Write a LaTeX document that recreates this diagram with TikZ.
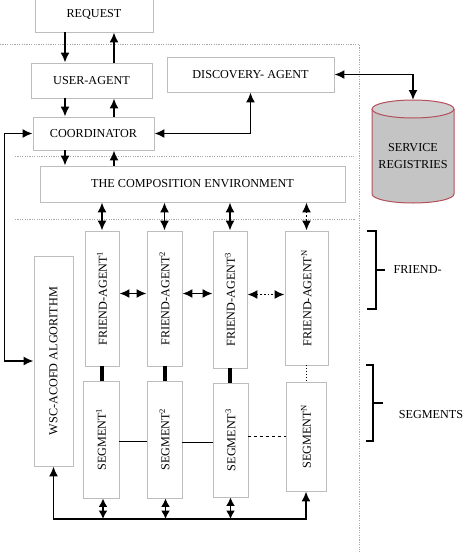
\documentclass[tikz,border=0pt]{standalone}
\usepackage{fontspec}
\setmainfont{Liberation Serif}
\usepackage{graphicx}
\usetikzlibrary{arrows.meta,calc}
\definecolor{boxgray}{HTML}{BDBDBD}
\definecolor{sepgray}{HTML}{A8A8A8}
\definecolor{cylred}{HTML}{B4505C}
\definecolor{cylfill}{HTML}{C4C4C4}
\definecolor{cyltop}{HTML}{D0D0D0}
\tikzset{
  box/.style={draw=boxgray, line width=0.9pt, fill=white, inner sep=0pt},
  arr/.style={line width=1.7pt, -{Latex[length=10pt,width=9pt]}},
  arrtwo/.style={line width=1.7pt, {Latex[length=10pt,width=9pt]}-{Latex[length=10pt,width=9pt]}},
  shortarr/.style={line width=1.7pt, {Latex[length=8.5pt,width=9pt]}-{Latex[length=8.5pt,width=9pt]}},
  sep/.style={draw=sepgray, line width=0.8pt, dash pattern=on 1.2pt off 1.2pt},
  thickcon/.style={line width=4pt},
  seglink/.style={line width=1.3pt},
  brk/.style={line width=1.9pt},
}
\begin{document}
\begin{tikzpicture}[x=1pt,y=1pt,font=\fontsize{12.2}{14}\selectfont]
\useasboundingbox (0,0) rectangle (474,-552);
% frame and separators
\draw[sep] (0,-44) -- (359,-44) -- (359,-552);
\draw[sep] (15,-156) -- (354,-156);
\draw[sep] (15,-219) -- (355,-219);

% boxes
\node[box, minimum width=118pt, minimum height=35pt] (req) at (94,-14.5) {REQUEST};
\node[box, minimum width=121pt, minimum height=35pt] (user) at (91.5,-80.5) {USER-AGENT};
\node[box, minimum width=121pt, minimum height=33pt] (coord) at (93.5,-133.5) {COORDINATOR};
\node[box, minimum width=167pt, minimum height=35pt] (disc) at (250.5,-74.5) {DISCOVERY- AGENT};
\node[box, minimum width=305pt, minimum height=36pt] (comp) at (192.5,-184) {THE COMPOSITION ENVIRONMENT};

\node[box, minimum width=34pt, minimum height=135pt] (fa1) at (102,-298.5) {\rotatebox{90}{FRIEND-AGENT\textsuperscript{1}}};
\node[box, minimum width=35pt, minimum height=135pt] (fa2) at (164.5,-298.5) {\rotatebox{90}{FRIEND-AGENT\textsuperscript{2}}};
\node[box, minimum width=34pt, minimum height=137pt] (fa3) at (230,-299.5) {\rotatebox{90}{FRIEND-AGENT\textsuperscript{3}}};
\node[box, minimum width=43pt, minimum height=134pt] (faN) at (306.5,-298) {\rotatebox{90}{FRIEND-AGENT\textsuperscript{N}}};

\node[box, minimum width=39pt, minimum height=210pt] (wsc) at (53.5,-361) {\rotatebox{90}{WSC-ACOFD ALGORITHM}};

\node[box, minimum width=36pt, minimum height=117pt] (s1) at (101,-439.5) {\rotatebox{90}{SEGMENT\textsuperscript{1}}};
\node[box, minimum width=35pt, minimum height=117pt] (s2) at (164.5,-439.5) {\rotatebox{90}{SEGMENT\textsuperscript{2}}};
\node[box, minimum width=35pt, minimum height=114pt] (s3) at (230.5,-440) {\rotatebox{90}{SEGMENT\textsuperscript{3}}};
\node[box, minimum width=40pt, minimum height=109pt] (sN) at (306,-436.5) {\rotatebox{90}{SEGMENT\textsuperscript{N}}};

% cylinder
\fill[cylfill] (372,-109) -- (372,-194) arc[start angle=180,end angle=360,x radius=41,y radius=9] -- (454,-109) -- cycle;
\draw[cylred, line width=1pt] (372,-109) -- (372,-194) arc[start angle=180,end angle=360,x radius=41,y radius=9] -- (454,-109);
\filldraw[fill=cyltop, draw=cylred, line width=1pt] (413,-109) ellipse [x radius=41, y radius=9];
\coordinate (cylTop) at (413,-100);
\node[align=center, font=\fontsize{12.2}{17}\selectfont] (cyl) at (413,-156) {SERVICE\\REGISTRIES};

% vertical arrows top
\coordinate (xa) at (65,0);
\coordinate (xb) at (114,0);
\draw[arr] (req.south -| xa) -- (user.north -| xa);
\draw[arr] (user.north -| xb) -- (req.south -| xb);
\draw[arr] (user.south -| xa) -- (coord.north -| xa);
\draw[arr] (coord.north -| xb) -- (user.south -| xb);
\draw[arr] (coord.south -| xa) -- (comp.north -| xa);
\draw[arr] (comp.north -| xb) -- (coord.south -| xb);

% coordinator / discovery / registries
\draw[arrtwo] (coord.east) -| (disc.south);
\draw[arrtwo] (disc.east) -| (cylTop);
\draw[arrtwo] (coord.west) -- ++(-28,0) |- (wsc.west);

% composition to friend agents
\draw[arrtwo] (comp.south -| fa1.north) -- (fa1.north);
\draw[arrtwo] (comp.south -| fa2.north) -- (fa2.north);
\draw[arrtwo] (comp.south -| fa3.north) -- (fa3.north);
\draw[arrtwo, dotted] (comp.south -| faN.north) -- (faN.north);

% friend agents horizontal
\draw[arrtwo] ([yshift=5pt]fa1.east) -- ([yshift=5pt]fa1.east -| fa2.west);
\draw[arrtwo] ([yshift=5pt]fa2.east) -- ([yshift=5pt]fa2.east -| fa3.west);
\draw[arrtwo, dotted] ([yshift=5pt]fa3.east) -- ([yshift=5pt]fa3.east -| faN.west);

% friend to segment
\draw[thickcon] (fa1.south) -- (fa1.south |- s1.north);
\draw[thickcon] (fa2.south) -- (fa2.south |- s2.north);
\draw[thickcon] (fa3.south) -- (fa3.south |- s3.north);
\draw[dotted, line width=0.9pt] (faN.south) -- (faN.south |- sN.north);

% segment links
\draw[seglink] ([yshift=-2pt]s1.east) -- ([yshift=-2pt]s1.east -| s2.west);
\draw[seglink] ([yshift=-3pt]s2.east) -- ([yshift=-3pt]s2.east -| s3.west);
\draw[seglink, dashed] (s3.east |- sN.west) -- (sN.west);

% bottom bus
\coordinate (bus) at (0,-519);
\draw[arrtwo] (wsc.south) -- (wsc.south |- bus) -| (sN.south);
\draw[shortarr] ([xshift=2pt]s1.south |- bus) -- ([xshift=2pt]s1.south);
\draw[shortarr] ([xshift=1pt]s2.south |- bus) -- ([xshift=1pt]s2.south);
\draw[shortarr] (s3.south |- bus) -- (s3.south);

% brackets
\draw[brk] (367,-231) -- (376,-231) -- (376,-309) -- (367,-309);
\draw[brk] (376,-270) -- (385,-270);
\node[anchor=west] (fl) at (390,-270) {FRIEND-};
\draw[brk] (366,-365) -- (373,-365) -- (373,-441) -- (366,-441);
\draw[brk] (373,-403) -- (383,-403);
\node (sl) at (431,-415) {SEGMENTS};
\end{tikzpicture}
\end{document}
